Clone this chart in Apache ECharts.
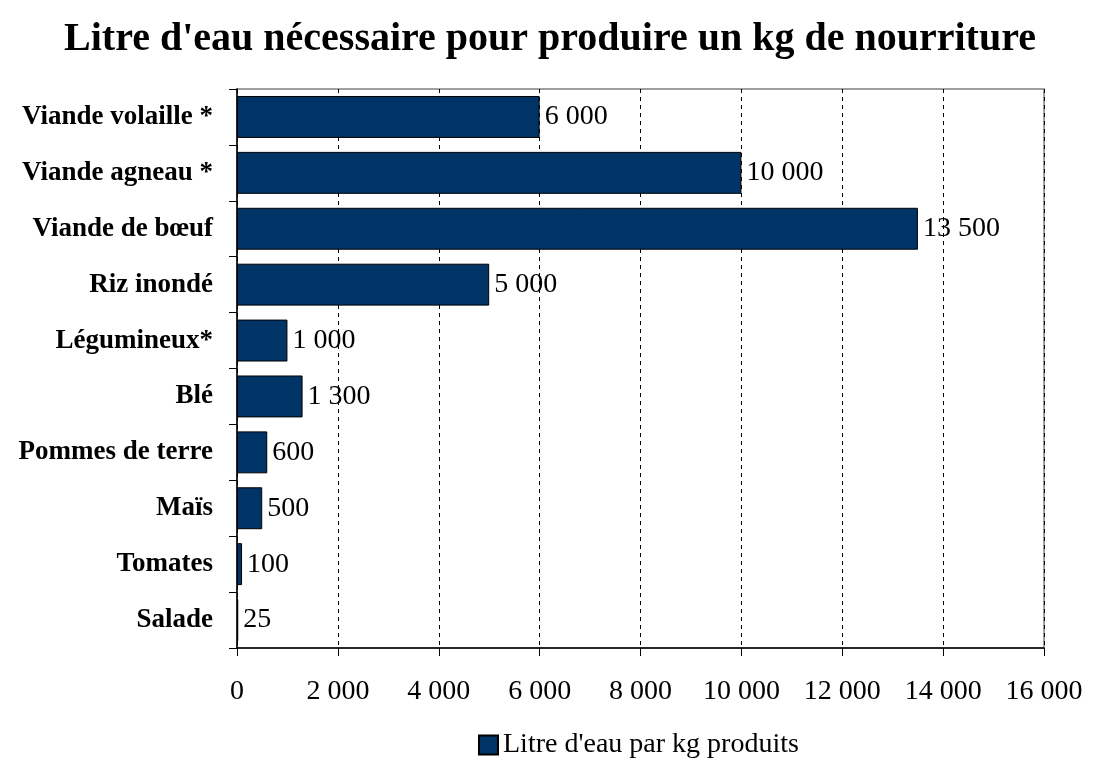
<!DOCTYPE html>
<html><head><meta charset="utf-8">
<script src="https://cdn.jsdelivr.net/npm/echarts@6/dist/echarts.min.js"></script>
<style>html,body{margin:0;padding:0;background:#fff}#c{width:1100px;height:780px}</style>
</head><body><div id="c"></div>
<script>
const categories = ["Viande volaille *","Viande agneau *","Viande de bœuf","Riz inondé","Légumineux*","Blé","Pommes de terre","Maïs","Tomates","Salade"];
const values = [6000,10000,13500,5000,1000,1300,600,500,100,25];
const seriesName = "Litre d'eau par kg produits";
const titleText = "Litre d'eau nécessaire pour produire un kg de nourriture";

function fmt(v){ return String(v).replace(/\B(?=(\d{3})+(?!\d))/g, ' '); }

const chart = echarts.init(document.getElementById('c'));
chart.setOption({
  animation:false,
  backgroundColor:'#fff',
  title:{text:titleText,left:'center',top:15,textStyle:{fontFamily:'Liberation Serif',fontWeight:'bold',fontSize:40,color:'#000'}},
  legend:{top:731,left:478,padding:0,itemWidth:19,itemHeight:19,itemGap:6,icon:'rect',
    textStyle:{fontFamily:'Liberation Serif',fontSize:28,color:'#000'},data:[seriesName]},
  grid:{left:237,right:56,top:89,bottom:132,show:true,borderColor:'#808080',borderWidth:1.5},
  xAxis:{type:'value',min:0,max:16000,interval:2000,
    axisLine:{show:true,lineStyle:{color:'#000',width:1.5}},
    axisTick:{show:true,length:8,lineStyle:{color:'#000'}},
    axisLabel:{formatter:fmt,margin:30,fontFamily:'Liberation Serif',fontSize:28,color:'#000'},
    splitLine:{show:true,lineStyle:{color:'#000',type:[4,4],width:1}}},
  yAxis:{type:'category',inverse:true,data:categories,
    axisLine:{show:true,lineStyle:{color:'#000',width:1.5}},
    axisTick:{show:true,length:8,lineStyle:{color:'#000'}},
    axisLabel:{margin:24,fontFamily:'Liberation Serif',fontWeight:'bold',fontSize:27,color:'#000'}},
  series:[{name:seriesName,type:'bar',data:values,barCategoryGap:'25%',
    itemStyle:{color:'#003366',borderColor:'#000',borderWidth:1},
    label:{show:true,position:'right',distance:5,formatter:p=>fmt(p.value),
      fontFamily:'Liberation Serif',fontSize:28,color:'#000'}}]
});
</script></body></html>
